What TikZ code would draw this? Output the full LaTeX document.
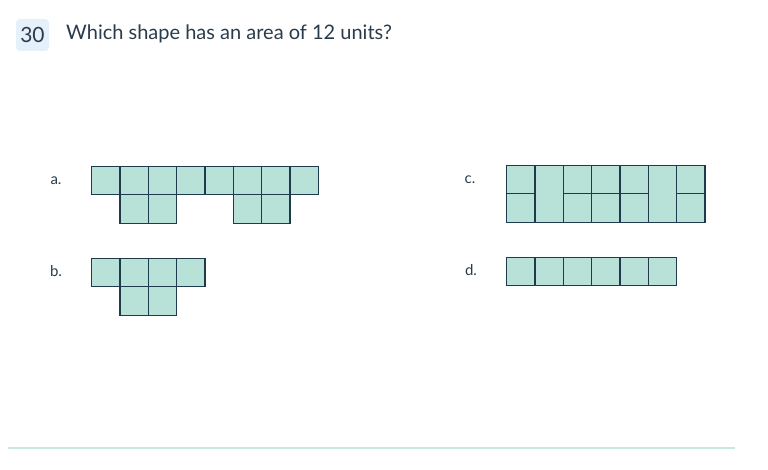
\documentclass[tikz,border=0pt]{standalone}
\usepackage{fontspec}
\setmainfont{Lato}
\definecolor{ink}{HTML}{2A3B4C}
\definecolor{cellfill}{HTML}{B8E2D8}
\definecolor{cellline}{HTML}{1E3A4C}
\definecolor{badge}{HTML}{E6F0FA}
\definecolor{rule}{HTML}{C6E9DF}
\tikzset{
  cell/.style={fill=cellfill, draw=cellline, line width=1.3pt},
  seg/.style={draw=cellline, line width=1.3pt},
  lbl/.style={text=ink, font=\fontsize{15}{17}\selectfont, inner sep=0pt},
}
\begin{document}
\begin{tikzpicture}[x=1pt,y=-1pt]
\useasboundingbox (0,0) rectangle (768,470);
% badge and question
\fill[badge, rounded corners=4pt] (16,19) rectangle (49,51);
\node[text=ink, font=\fontsize{21}{24}\selectfont, inner sep=0pt] (num) at (32.5,35) {30};
\node[text=ink, font=\fontsize{20}{24}\selectfont, inner sep=0pt, anchor=west] (q) at (66,34) {Which shape has an area of 12 units?};
% labels
\node[lbl] (la) at (56,181) {a.};
\node[lbl] (lb) at (56,271) {b.};
\node[lbl] (lc) at (470,180) {c.};
\node[lbl] (ld) at (471,270) {d.};
% shape a
\def\s{28.35}
\foreach \i in {0,...,7} \draw[cell] (91.5+\i*\s,166.5) rectangle ++(\s,\s);
\foreach \i in {1,2,5,6} \draw[cell] (91.5+\i*\s,166.5+\s) rectangle ++(\s,\s);
% shape b
\foreach \i in {0,...,3} \draw[cell] (91.5+\i*\s,258.5) rectangle ++(\s,\s);
\foreach \i in {1,2} \draw[cell] (91.5+\i*\s,258.5+\s) rectangle ++(\s,\s);
% shape c
\foreach \i in {0,...,6} \draw[cell] (506.5+\i*\s,165.5) rectangle ++(\s,2*\s);
\foreach \i in {0,2,3,4,6} \draw[seg] (506.5+\i*\s,165.5+\s) -- ++(\s,0);
% shape d
\foreach \i in {0,...,5} \draw[cell] (506.5+\i*\s,257.5) rectangle ++(\s,\s);
% bottom rule
\draw[rule, line width=2.5pt] (8,448) -- (735,448);
\end{tikzpicture}
\end{document}
